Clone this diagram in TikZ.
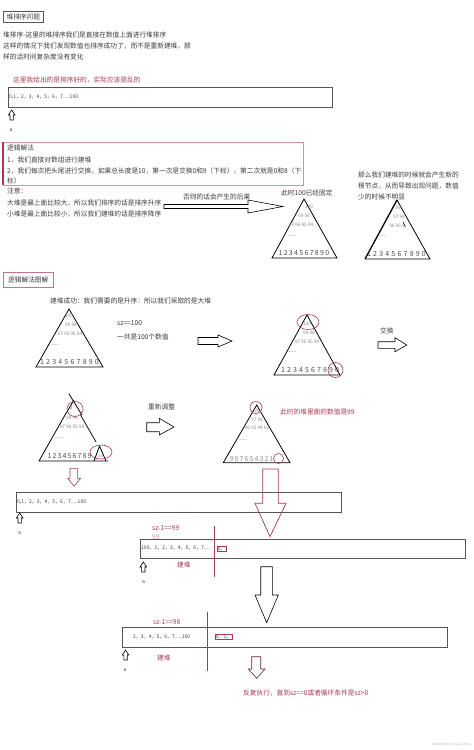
\documentclass[tikz,border=0pt]{standalone}
\usepackage{fontspec}
\setmainfont{Noto Sans CJK SC}

\definecolor{inkgray}{HTML}{3C3C3C}
\definecolor{numgray}{HTML}{8A8A8A}
\definecolor{digitgray}{HTML}{4A4A58}
\definecolor{boxgray}{HTML}{555555}
\definecolor{heapred}{HTML}{A83A55}

\tikzset{
  txt/.style={anchor=west, inner sep=0pt, font=\fontsize{6.7}{8}\selectfont, text=inkgray},
  redtxt/.style={txt, text=heapred},
  arrtxt/.style={anchor=west, inner sep=0pt, font=\fontsize{5}{6}\selectfont, text=inkgray},
  heapnum/.style={inner sep=0pt, font=\fontsize{4.8}{5}\selectfont, text=numgray},
  digit/.style={inner sep=0pt, font=\fontsize{7}{8}\selectfont, text=digitgray},
  tri/.style={line width=0.8pt, draw=black, line join=miter},
  arraybox/.style={draw=boxgray, line width=0.8pt},
  titlebox/.style={txt, draw=boxgray, line width=0.6pt, inner sep=2pt, minimum height=11pt},
  hollow/.style={draw=black, line width=0.6pt, fill=white},
  redring/.style={draw=heapred, line width=0.6pt},
  pics/uparr/.style={code={
    \draw[hollow] (0,0) -- (3.3,5) -- (1.7,5) -- (1.7,10) -- (-1.7,10) -- (-1.7,5) -- (-3.3,5) -- cycle;}},
}

% digits along the bottom of a heap triangle
\newcommand{\heapbase}[5]{%
  \foreach \d [count=\i from 0] in {#5}
    \node[digit] (#1-\i) at ({#2+\i*#3},#4) {\d};
}

\begin{document}
\begin{tikzpicture}[x=1pt, y=-1pt]

    \useasboundingbox[fill=white] (0,0) rectangle (474,750);

    %% Problem statement
    \node[titlebox, minimum width=40pt] (title) at (3,17) {堆排序问题};
    \node[txt] (desc1) at (3,35) {堆排序-这里的堆排序我们是直接在数值上面进行堆排序};
    \node[txt] (desc2) at (3,46) {这样的情况下我们发现数值也排序成功了，而不是重新建堆，那};
    \node[txt] (desc3) at (3,57) {样的话时间复杂度没有变化};

    % Sorted array
    \node[redtxt] (note) at (13,80) {这里我给出的是排序好的，实际应该是乱的};
    \draw[arraybox] (8,87) rectangle (332,107);
    \node[arrtxt] (arr1) at (9,97) {0,1，2，3，4，5，6，7.....100};
    \pic at (11.7,110) {uparr};
    \node[arrtxt] (a1) at (9.5,130) {a};

    %% Logic
    \draw[draw=heapred!55, line width=0.6pt] (3,142) rectangle (303,185);
    \draw[heapred, line width=1.4pt] (3,142) -- (3,185);
    \node[txt] (logic) at (7,148) {逻辑解法};
    \node[txt] (step1) at (7,160) {1，我们直接对数组进行建堆};
    \node[txt] (step2) at (7,171) {2，我们每次把头尾进行交换，如果总长度是10，第一次是交换0和9（下标），第二次就是0和8（下};
    \node[txt] (step2b) at (7,181) {标）};

    \node[txt] (caution) at (7,191) {注意：};
    \node[txt] (big) at (7,203) {大堆是最上面比较大，所以我们排序的话是排序升序};
    \node[txt] (small) at (7,214) {小堆是最上面比较小，所以我们建堆的话是排序降序};

    % Long arrow
    \node[txt] (else) at (183,197) {否则的话会产生的后果};
    \draw[hollow] (164,204.5) -- (248,204.5) -- (248,200) -- (283,206.5) -- (248,213) -- (248,208.5) -- (164,208.5) -- cycle;

    % Heap with 100 fixed
    \node[txt] (fixed) at (281,193) {此时100已经固定};
    \draw[tri] (304,199) -- (272,258) -- (337,258) -- cycle;
    \node[heapnum] (h2a) at (309,207) {100};
    \node[heapnum] (h2b) at (304,216) {99 98};
    \node[heapnum] (h2c) at (301,225) {97 96 95 94};
    \node[heapnum] (h2d) at (292,237) {——};
    \heapbase{h2}{280.5}{5.2}{253}{1,2,3,4,5,6,7,8,9,0}

    % Heap with new root
    \node[txt] (root1) at (358,175) {那么我们建堆的时候就会产生新的};
    \node[txt] (root2) at (358,186) {根节点，从而导致出现问题，数值};
    \node[txt] (root3) at (358,197) {少的时候不明显};
    \draw[tri] (397,200) -- (430,259) -- (365,259);
    \draw[line width=1.3pt] (365,259) -- (397,200);
    \node[heapnum] (h3a) at (398,208) {99};
    \node[heapnum] (h3b) at (399,217) {97 98};
    \node[heapnum] (h3c) at (397,226) {96 95 9};
    \draw[line width=0.5pt] (403,222) -- (405.5,227);
    \node[heapnum] (h3d) at (383,237) {——};
    \heapbase{h3}{369}{6.1}{254}{1,2,3,4,5,6,7,8,9,0}

    %% Logic illustrated
    \node[titlebox, draw=heapred!70, minimum width=50pt, minimum height=15pt] (title2) at (3,279.5) {逻辑解法图解};
    \node[txt] (built) at (50,301) {建堆成功：我们需要的是升序：所以我们采取的是大堆};

    % Heap after building
    \draw[tri] (69,309) -- (36,367) -- (103,367) -- cycle;
    \node[heapnum] (h4a) at (69,316) {100};
    \node[heapnum] (h4b) at (71,325) {99 98};
    \node[heapnum] (h4c) at (70,334) {97 96 95 94};
    \node[heapnum] (h4d) at (55,346) {——};
    \heapbase{h4}{42}{6.1}{362}{1,2,3,4,5,6,7,8,9,0}

    \node[txt] (sz) at (117,323) {sz==100};
    \node[txt] (count) at (117,337) {一共是100个数值};
    \draw[hollow] (198,337.5) -- (218,337.5) -- (218,335) -- (232,341) -- (218,347) -- (218,344.5) -- (198,344.5) -- cycle;

    % Heap before swap
    \draw[tri] (307,315) -- (274,375) -- (340,375) -- cycle;
    \node[heapnum] (h5a) at (307,324) {100};
    \node[heapnum] (h5b) at (309,333) {99 98};
    \node[heapnum] (h5c) at (307,342) {97 96 95 94};
    \node[heapnum] (h5d) at (293,353) {——};
    \heapbase{h5}{283}{6}{370}{1,2,3,4,5,6,7,8,9,0}
    \draw[redring] (308,322) ellipse (11 and 7.5);
    \draw[redring] (335.5,370) circle (7.5);

    \node[txt] (swap) at (380,331) {交换};
    \draw[hollow] (378,341.7) -- (395,341.7) -- (395,337.7) -- (406.7,345) -- (395,351.7) -- (395,348.3) -- (378,348.3) -- cycle;

    % Heap after swap
    \draw[tri] (69,394) -- (82,415);
    \draw[tri] (65,415) -- (74,400);
    \draw[tri] (65,415) -- (39,461) -- (108,461);
    \draw[tri] (80,414) -- (96,442);
    \draw[tri] (94,461) -- (99.5,446) -- (106,461);
    \node[heapnum, text=heapred!70!gray] (h6a) at (71,408) {0};
    \node[heapnum] (h6b) at (72,418) {99 98};
    \node[heapnum] (h6c) at (72,427) {97 96 95 94};
    \node[heapnum] (h6d) at (59,439) {——};
    \node[heapnum, font=\fontsize{3.5}{4}\selectfont] (h6e) at (100,456) {100};
    \heapbase{h6}{49.5}{5}{456}{1,2,3,4,5,6,7,8,9}
    \draw[redring] (75,409) ellipse (8 and 7.5);
    \draw[redring] (101,452) ellipse (11 and 7);

    % Red down arrow
    \draw[hollow, draw=heapred] (70,468.3) -- (77.3,468.3) -- (77.3,478.3) -- (80.7,478.3) -- (74,486) -- (67.7,478.3) -- (70,478.3) -- cycle;

    \node[txt] (adjust) at (148,407) {重新调整};
    \draw[hollow] (146.7,422.7) -- (159.3,422.7) -- (159.3,418.3) -- (174,427) -- (159.3,435) -- (159.3,431.7) -- (146.7,431.7) -- cycle;

    % Heap after adjusting
    \draw[tri] (256.7,405) -- (223.3,462.7) -- (290,462.7) -- cycle;
    \node[heapnum] (h7a) at (256.7,411) {99};
    \node[heapnum] (h7b) at (257,420) {97 98};
    \node[heapnum] (h7c) at (257,428) {96 95 94 92};
    \node[heapnum] (h7d) at (243,441) {——};
    \begin{scope}[digit/.append style={text=digitgray!60}]
    \heapbase{h7}{231.5}{5}{459}{9,8,7,6,5,4,3,2,1}
    \end{scope}
    \draw[redring] (256,407.5) circle (6);
    \draw[redring] (278.5,458.5) circle (5);
    \node[redtxt] (now99) at (280,412) {此时的堆里面的数值是99};

    % Big red down arrow
    \draw[hollow, draw=heapred, line width=0.7pt] (262.7,469) -- (278.3,469) -- (278.3,503.3) -- (286,503.3) -- (270,536.7) -- (255,503.3) -- (262.7,503.3) -- cycle;

    %% Arrays
    % Array before
    \draw[arraybox] (16,492) rectangle (341,512);
    \node[arrtxt] (arr2) at (17,502) {0,1，2，3，4，5，6，7.....100};
    \pic at (19.7,513) {uparr};
    \node[arrtxt] (a2) at (18,533) {a};

    % Array after first swap
    \node[redtxt] (sz99) at (152,528) {sz-1==99};
    \node[redtxt, text=heapred!55] (n99) at (152,537) {99};
    \draw[hollow] (260.7,566.7) -- (272.3,566.7) -- (272.3,595) -- (278.3,595) -- (266.7,622.7) -- (255,595) -- (260.7,595) -- cycle;
    \draw[arraybox, fill=white] (140,539) rectangle (465,558);
    \node[arrtxt] (arr3) at (141,548) {100，1，2，3，4，5，6，7.....};
    \node[arrtxt, draw=heapred, line width=0.6pt, inner sep=0.6pt] (fix3) at (217,548.5) {0，};
    \draw[heapred, line width=0.7pt] (214,526) -- (214,577);
    \node[redtxt] (heap3) at (177,565) {建堆};
    \pic at (143.3,562) {uparr};
    \node[arrtxt] (a3) at (142,582) {a};

    % Array after second swap
    \node[redtxt] (sz98) at (153,622) {sz-1==98};
    \draw[arraybox] (122,627) rectangle (447,647);
    \node[arrtxt] (arr4) at (133,637) {2，3，4，5，6，7.....100};
    \node[arrtxt, draw=heapred, line width=0.6pt, inner sep=0.6pt] (fix4) at (215,637) {0，1，};
    \draw[heapred, line width=0.7pt] (207,612) -- (207,671);
    \node[redtxt] (heap4) at (157,658) {建堆};
    \pic at (125.5,650) {uparr};
    \node[arrtxt] (a4) at (123.5,670) {a};

    % Repeat
    \draw[hollow, draw=heapred!60!black] (251.7,656.7) -- (260.7,656.7) -- (260.7,669) -- (265,669) -- (256.7,678.3) -- (248.3,669) -- (251.7,669) -- cycle;
    \node[redtxt] (repeat) at (243,693) {反复执行，直到sz==0或者循环条件是sz>0};

    \node[anchor=east, inner sep=0pt, font=\fontsize{3}{3.5}\selectfont, text=numgray!70] (mark) at (471,745) {CSDN @Bittern\_Huai\_China};

\end{tikzpicture}
\end{document}
